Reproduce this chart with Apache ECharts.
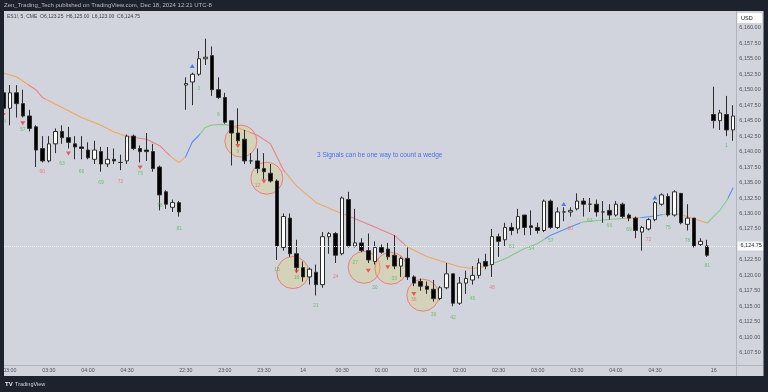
<!DOCTYPE html>
<html><head><meta charset="utf-8">
<script src="https://cdn.jsdelivr.net/npm/echarts@6/dist/echarts.min.js"></script>
<style>html,body{margin:0;padding:0;background:#1e222d}#c{width:768px;height:392px}</style>
</head><body><div id="c"></div><script>
// ---- bar data (bar index -1 .. 111, 5-minute bars) ----
const opens = [6149.5,
 6147,6149.5,6147.75,6145.75,6144,6140.5,6138.5,6141.25,6143.25,6142.25,
 6141.25,6140.75,6140.25,6138.75,6140,6138,6138.75,6138.25,6138.5,6142.5,
 6140.5,6140.25,6140,6137.5,6133.5,6131,6131.75,6150.75,6151.25,6152.5,
 6155,6155.5,6150,6148.75,6145,6143,6142,6138.5,6138.5,6137.25,
 6136.5,6135.25,6124.5,6129.25,6123.5,6121.25,6119.75,6120.5,6118.5,6126.25,
 6126.75,6123.5,6132.25,6124.75,6125.25,6124,6122.25,6124.5,6124.25,6123.25,
 6121.5,6122.75,6119.75,6119,6118.25,6117.75,6116.25,6118,6120.25,6115.5,
 6118.75,6119.25,6120,6122.25,6121.75,6126.25,6125.75,6127.75,6127.5,6129.75,
 6128,6127.75,6127.25,6132,6127.75,6130.25,6130.25,6130.75,6132,6131.5,
 6131.5,6130.25,6130.5,6129.75,6131.5,6129.75,6129.25,6127,6127.5,6129,
 6131.5,6132.75,6129.75,6133.25,6128.25,6129.25,6125,6124.75,6146,6145,
 6146,6143.5];
const closes = [6147,
 6149.5,6147.75,6145.75,6143.75,6140.25,6138.5,6141.25,6143.25,6142.25,6141.5,
 6140.75,6140.5,6139,6140.25,6138,6138.75,6138.5,6138.25,6142.5,6140.5,
 6140,6140,6137.25,6133,6131.5,6131.75,6130.25,6151,6152.5,6155,
 6155.25,6150,6148.75,6144.75,6143,6141.75,6138.5,6138.5,6137.25,6136.75,
 6135.25,6124.75,6129.5,6123.5,6121.25,6119.75,6121,6118.5,6126.25,6126.75,
 6123.25,6132.5,6124.75,6125.25,6124,6122.5,6124.5,6123.75,6123,6121.5,
 6122.75,6119.75,6118.75,6118.25,6117.75,6116.25,6118,6120.25,6115.5,6118.75,
 6119.5,6120,6122,6121.5,6126.25,6125.5,6127.75,6127.25,6129.5,6127.75,
 6127.75,6127.25,6132,6127.75,6130.25,6130.25,6130.5,6132,6131.5,6131.5,
 6130.25,6130.25,6129.75,6131.5,6129.5,6129.25,6127.25,6127.75,6129,6131.75,
 6133,6129.75,6133.5,6128.5,6129.25,6124.75,6125.5,6123.25,6145,6146.25,
 6143.5,6145.75];
const lows = [6145.75,
 6144.25,6145.5,6145.5,6143.25,6137.5,6138.25,6138.25,6139.75,6141.25,6140.5,
 6138.75,6138.75,6138.75,6138,6136.75,6137.5,6138,6137,6138,6140.25,
 6138.25,6138.5,6136.75,6130.5,6130.75,6130.25,6129.5,6146.75,6147.5,6152.25,
 6154,6149,6148.5,6144.5,6137.75,6141.25,6138,6138,6136.5,6135.5,
 6135,6122.5,6124,6123,6120.5,6119,6118.5,6116.75,6118,6123.5,
 6122,6123.25,6124.5,6124.5,6123.75,6122,6121.75,6123.5,6122.5,6121,
 6119.75,6119.25,6118.25,6117.5,6117,6115.75,6116,6117.75,6115,6115.25,
 6117,6118.5,6119.5,6121,6119.75,6123,6124.75,6126.5,6126.75,6126.5,
 6126.5,6126.75,6127,6127.5,6127.5,6128.75,6129.5,6130.5,6129.5,6130.25,
 6129.5,6128.5,6129,6129.5,6129.25,6128.75,6126,6124,6127.25,6128.75,
 6131.25,6129.5,6129.5,6128.25,6127.25,6124.5,6124.75,6123,6143.75,6143.5,
 6142.5,6141.75];
const highs = [6150.5,
 6150.75,6150.75,6150,6146.75,6144.25,6142.5,6142.5,6143.75,6144.25,6144,
 6142.5,6142.5,6141.5,6141.75,6140.75,6140.75,6140.5,6139.5,6142.75,6142.75,
 6141,6143,6141.25,6137.75,6133.75,6132.25,6132,6152,6152.75,6156.25,
 6158.25,6157,6152,6149.5,6145,6147,6143.5,6139.75,6140.5,6139.75,
 6138,6135.5,6130,6130,6125.75,6122.25,6121.25,6121.75,6127,6127,
 6127,6132.75,6133.5,6130.75,6126,6126.75,6125.5,6125,6125.25,6126.5,
 6123,6124.5,6120,6119.5,6119,6119.25,6118.25,6122,6120.25,6119.75,
 6120.75,6121.5,6122.75,6123.5,6127.5,6126.75,6128.5,6128.5,6130.75,6129.75,
 6130.5,6128.5,6132.25,6132.25,6131,6131,6131,6133.25,6132.5,6132.5,
 6132.25,6132,6131.5,6132,6131.75,6130,6129.5,6128,6129.25,6132,
 6133.25,6133.25,6133.75,6133.25,6131.5,6129.25,6126,6125.75,6150.5,6146.75,
 6149,6147.5];

// sessions used to name the bars (time of each bar)
const sessionStarts = ['02:55', '22:30', '00:00'];
const sessionCounts = [28, 81, 4];
const sessionDayLabels = [null, '14', '16'];
const timeTicks = ['03:00','03:30','04:00','04:30','22:30','23:00','23:30','14','00:30','01:00','01:30','02:00','02:30','16'];

// moving-average line (bar index, price) read at its vertices
const emaBars   = [-1,1,4,5,9,11,14,16,18,21,23,24,25,26,27,28,29,30,31,33,35,38,40,42,44,47,50,53,56,59,61,64,66,69,71,73,76,79,81,83,86,88,91,94,97,99,101,103,105,107,109,110,111];
const emaPrices = [6152.7,6152.1,6150.0,6148.75,6146.6,6145.5,6144.25,6143.15,6142.45,6142.0,6140.95,6139.9,6138.95,6138.25,6139.2,6141.55,6142.6,6143.9,6144.3,6144.4,6143.85,6142.65,6141.25,6137.0,6134.45,6131.75,6130.4,6129.15,6127.8,6126.45,6124.6,6123.05,6122.35,6121.4,6121.1,6121.45,6122.7,6124.35,6125.15,6126.5,6127.8,6128.65,6128.95,6129.2,6129.35,6129.6,6130.0,6129.85,6129.1,6128.45,6130.6,6132.1,6134.15];
const emaSegEnds   = [2.8,5.4,17.7,24.6,26.9,29.2,33.5,36.9,42.3,51.5,60.7,73,82.1,87.5,94.4,96.7,100.1,103.3,107,110.2,113];
const emaSegColors = ['o','r','o','r','o','b','g','o','r','o','r','o','g','b','g','o','b','g','o','g','b'];

// signal counters
const labelBars   = [-1,2,5,8,11,14,17,20,23,26,29,32,35,38,41,44,47,50,53,56,59,62,65,68,71,74,77,80,83,86,89,92,95,98,101,104,107,110];
const labelTexts  = ['54','57','60','63','66','69','72','75','78','81','3','6','9','12','15','18','21','24','27','30','33','36','39','42','45','48','51','54','57','60','63','66','69','72','75','78','81','1'];
const labelPrices = [6144.85,6143.6,6136.75,6138.0,6136.75,6135.0,6135.2,6136.5,6131.25,6127.5,6150.1,6146.0,6140.0,6134.5,6120.9,6119.7,6115.05,6119.8,6122.1,6118.1,6119.4,6116.0,6113.6,6113.2,6116.3,6118.1,6124.65,6124.4,6125.6,6127.6,6128.85,6128.0,6127.45,6125.85,6127.7,6125.6,6121.5,6140.9];
const labelKinds  = ['g','g','r','g','g','g','r','g','g','g','g','g','g','r','g','g','g','r','g','g','g','r','g','g','g','r','g','g','g','r','g','g','g','r','g','g','g','g'];

// signal triangles
const downBars = [-1,2,9,20,35,39,44,55,58,62];
const downPrices = [6145.9,6144.6,6139.7,6137.45,6140.9,6135.15,6120.6,6120.75,6121.3,6117.0];
const upBars = [28,85,99];
const upPrices = [6153.85,6131.55,6132.6];

// circle drawings
const circleBars = [35.46,39.44,43.43,54.37,58.47,63.38];
const circlePrices = [6141.7,6135.7,6120.45,6121.3,6121.15,6116.8];

// ---- build ----
const FONT = 'Liberation Sans';
function fmtPrice(v){ const s = Number(v).toFixed(2); const i = s.indexOf('.'); return s.slice(0,i).replace(/\B(?=(\d{3})+(?!\d))/g, ',') + s.slice(i); }
function buildCategories(){
  const out = [];
  sessionStarts.forEach((st, si) => {
    let [h, m] = st.split(':').map(Number);
    for (let k = 0; k < sessionCounts[si]; k++) {
      let lab = String(h).padStart(2,'0') + ':' + String(m).padStart(2,'0');
      if (h === 0 && m === 0 && sessionDayLabels[si]) lab = sessionDayLabels[si];
      out.push(lab);
      m += 5; if (m >= 60) { m -= 60; h = (h + 1) % 24; }
    }
  });
  return out;
}
const cats = buildCategories();
const candleData = opens.map((o, i) => [o, closes[i], lows[i], highs[i]]);
const palette = {o:'#f2a55c', r:'#ef7f84', g:'#82c98c', b:'#5b8def'};
const pieces = emaSegEnds.map((e, i) => ({gte: i === 0 ? -3 : emaSegEnds[i-1], lt: e, color: palette[emaSegColors[i]]}));

const chart = echarts.init(document.getElementById('c'), null, {renderer:'canvas', width:768, height:392});
const option = {
  animation: false,
  backgroundColor: '#d1d4dc',
  grid: {left: 0, right: 31.5, top: 12.35, bottom: 23.8, containLabel: false},
  xAxis: [
    {type:'category', data: cats, boundaryGap: true,
     axisLine:{show:false}, axisTick:{show:false}, splitLine:{show:false},
     axisLabel:{interval:(i, v) => timeTicks.includes(v), margin: 2.5, verticalAlign:'middle',
       color:'#50535e', fontSize:5.3, fontFamily:FONT, hideOverlap:false}},
    {type:'value', min:-1.5, max:111.5, show:false}
  ],
  yAxis: {type:'value', position:'right', min:6105, max:6162.5, interval:2.5,
    axisLine:{show:false}, axisTick:{show:false}, splitLine:{show:false},
    axisLabel:{margin:2.8, color:'#50535e', fontSize:5.5, fontFamily:FONT, formatter: fmtPrice, showMinLabel:false, showMaxLabel:false}},
  visualMap: {show:false, type:'piecewise', seriesIndex:1, dimension:0, pieces: pieces},
  series: [
    {type:'candlestick', xAxisIndex:0, yAxisIndex:0, data: candleData, barWidth: 4, z: 3,
     itemStyle:{color:'#ffffff', color0:'#000000', borderColor:'#2e2e2e', borderColor0:'#2e2e2e', borderWidth:1},
     markLine:{silent:true, symbol:['none','none'], animation:false,
       data:[
         {yAxis:6124.75, lineStyle:{type:'dotted', color:'#f4f5f8', width:1, opacity:0.9},
          label:{show:true, position:'end', formatter:'6,124.75', backgroundColor:'#ffffff', color:'#131722', fontSize:5.5, fontFamily:FONT, padding:[2,3,1,3], distance:1}},
         {yAxis:6145.75, lineStyle:{opacity:0},
          label:{show:true, position:'end', formatter:'6,145.75', backgroundColor:'rgba(236,238,243,0.9)', color:'#ffffff', fontSize:5.5, fontFamily:FONT, padding:[2,3,1,3], distance:1}}
       ]}},
    {type:'line', xAxisIndex:1, yAxisIndex:0, data: emaBars.map((b, i) => [b, emaPrices[i]]),
     showSymbol:false, connectNulls:true, lineStyle:{width:1.1}, z: 2},
    {type:'scatter', xAxisIndex:1, yAxisIndex:0, data: circleBars.map((b, i) => [b, circlePrices[i]]),
     symbol:'circle', symbolSize:32, z: 1,
     itemStyle:{color:'rgba(222,206,110,0.38)', borderColor:'#f06a6a', borderWidth:1}},
    {type:'scatter', xAxisIndex:1, yAxisIndex:0, data: downBars.map((b, i) => [b, downPrices[i]]),
     symbol:'triangle', symbolRotate:180, symbolSize:[5,4], z: 4, itemStyle:{color:'#f23645'}},
    {type:'scatter', xAxisIndex:1, yAxisIndex:0, data: upBars.map((b, i) => [b, upPrices[i]]),
     symbol:'triangle', symbolSize:[5,4], z: 4, itemStyle:{color:'#2962ff'}},
    {type:'scatter', xAxisIndex:1, yAxisIndex:0, z: 4,
     data: labelBars.map((b, i) => ({value:[b, labelPrices[i]], name: labelTexts[i],
       label:{color: labelKinds[i] === 'r' ? '#ef6b6b' : '#58b85e'}})),
     symbol:'circle', symbolSize:0.1, itemStyle:{color:'rgba(0,0,0,0)'},
     label:{show:true, position:'inside', formatter:'{b}', fontSize:5, fontFamily:FONT}}
  ],
  graphic: [
    {type:'rect', shape:{x:0, y:0, width:768, height:11}, style:{fill:'#1e222d'}, z:100, silent:true},
    {type:'rect', shape:{x:0, y:376, width:768, height:16}, style:{fill:'#1e222d'}, z:100, silent:true},
    {type:'rect', shape:{x:0, y:0, width:4, height:392}, style:{fill:'#1e222d'}, z:100, silent:true},
    {type:'rect', shape:{x:763.5, y:0, width:4.5, height:392}, style:{fill:'#1e222d'}, z:100, silent:true},
    {type:'line', shape:{x1:736.5, y1:11, x2:736.5, y2:376}, style:{stroke:'#b2b5be', lineWidth:1}, z:90, silent:true},
    {type:'line', shape:{x1:4, y1:365.5, x2:763.5, y2:365.5}, style:{stroke:'#b2b5be', lineWidth:1}, z:90, silent:true},
    {type:'rect', shape:{x:737.5, y:13, width:24.5, height:10}, style:{fill:'#ffffff'}, z:95, silent:true},
    {type:'text', x:741, y:18, style:{text:'USD', fill:'#131722', font:'5.5px "Liberation Sans"', verticalAlign:'middle'}, z:96, silent:true},
    {type:'text', x:4, y:5.5, style:{text:'Zen_Trading_Tech published on TradingView.com, Dec 18, 2024 12:21 UTC-8', fill:'#b8bbc4', font:'6px "Liberation Sans"', verticalAlign:'middle'}, z:101, silent:true},
    {type:'text', x:7, y:16.5, style:{text:'ES1!, 5, CME  O6,123.25  H6,125.00  L6,123.00  C6,124.75', fill:'#3d404a', font:'5px "Liberation Sans"', verticalAlign:'middle'}, z:101, silent:true},
    {type:'text', x:317, y:155, style:{text:'3 Signals can be one way to count a wedge', fill:'#4c70e8', font:'6.5px "Liberation Sans"', verticalAlign:'middle'}, z:60, silent:true},
    {type:'text', x:5, y:384, style:{text:'TV', fill:'#e6e8ee', font:'bold 6px "Liberation Sans"', verticalAlign:'middle'}, z:101, silent:true},
    {type:'text', x:15, y:384, style:{text:'TradingView', fill:'#d1d4dc', font:'5.5px "Liberation Sans"', verticalAlign:'middle'}, z:101, silent:true}
  ]
};
chart.setOption(option);
</script></body></html>
